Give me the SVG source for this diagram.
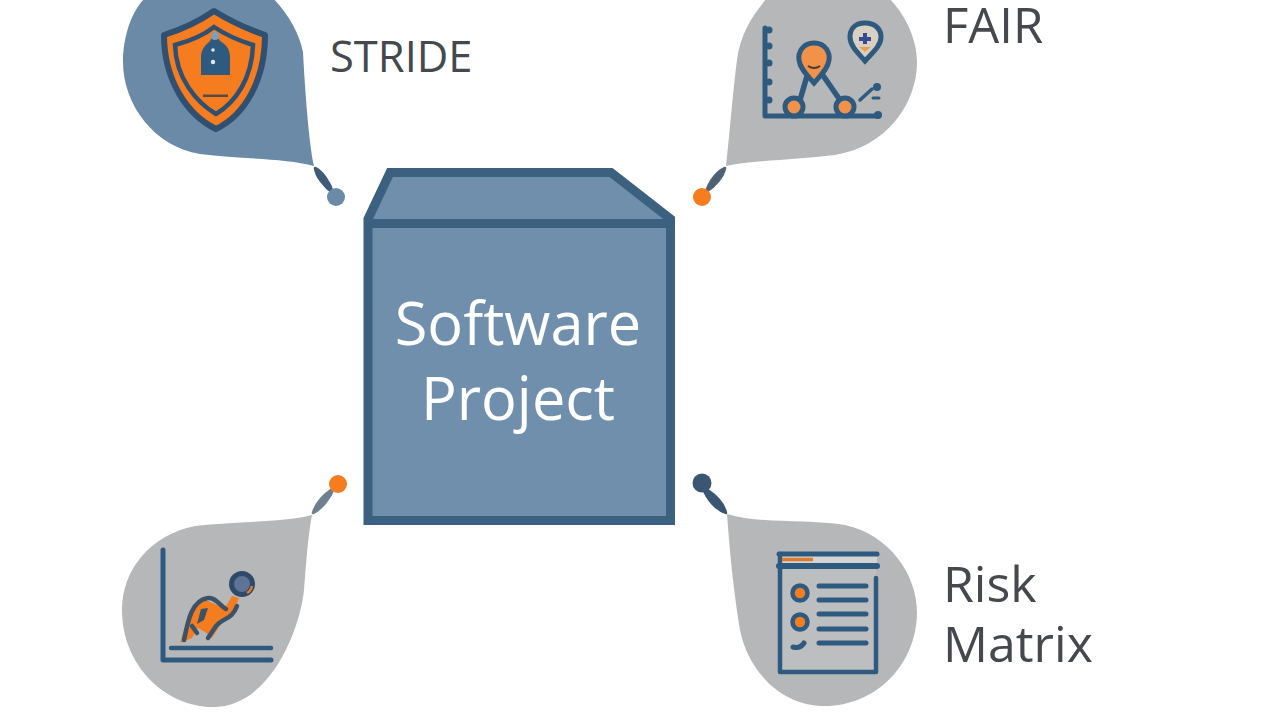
<svg xmlns="http://www.w3.org/2000/svg" width="1280" height="720" viewBox="0 0 1280 720">
<style>
.lbl{font-family:"Open Sans","Noto Sans",sans-serif;fill:#45484c}
.ttl{font-family:"Open Sans","Noto Sans",sans-serif;fill:#fff;font-size:59.5px;text-anchor:middle}
.ln{fill:none;stroke:#2f5a80;stroke-linecap:round;stroke-linejoin:round}
.grey{fill:#b6b7b9}
.blue{fill:#6b8aa8}
.or{fill:#f57c1f}
.nv{fill:#2f5a80}
.stalk{stroke-width:2.500;stroke-linejoin:round}
</style>
<rect width="1280" height="720" fill="#fff"/>
<g id="connectors">
<path class="stalk" d="M315,168 C322.200,171.100 330.200,182.300 333,193 C323.800,186.900 315.800,175.700 315,168Z" fill="#3f5d7b" stroke="#3f5d7b"/>
<path class="stalk" d="M725,168 C723.900,175.500 715.500,186.300 706,192 C709.100,181.500 717.500,170.700 725,168Z" fill="#4f6273" stroke="#4f6273"/>
<path class="stalk" d="M313,513 C320.900,509.500 330.100,498.700 334,488 C324.100,493.500 314.900,504.300 313,513Z" fill="#6e7f90" stroke="#6e7f90"/>
<path class="stalk" d="M726,513 C724.100,503.500 714.100,492.700 703,488 C706.900,499.500 716.900,510.300 726,513Z" fill="#3a5672" stroke="#3a5672"/>
<circle cx="336" cy="197" r="9" class="blue"/>
<circle cx="702" cy="197" r="9" class="or"/>
<circle cx="338" cy="484" r="9" class="or"/>
<circle cx="702" cy="483" r="9.5" fill="#3a5672"/>
</g>
<g id="node-project">
<path d="M390,172.500 H611 L670.500,219 V520.500 H368 V219Z" fill="#6f8fac" stroke="#3b6080" stroke-width="9" stroke-linejoin="miter"/>
<path d="M366,223.500 H672" stroke="#3b6080" stroke-width="9" fill="none"/>
<text class="ttl" x="518" y="345">Software</text>
<text class="ttl" x="518" y="420">Project</text>
</g>
<g id="node-stride">
<path class="blue" d="M314,166 C309,145 305,90 303,52 C299,32 288,14 272,-3 L146,-3 C130,12 123,40 123,62 C123,105 155,147 200,154 C240,159 285,158 314,166Z"/>
<path d="M214,11 C232,22 250,30 265,35 C265,80 245,115 216,129 C187,115 164,80 164,35 C180,30 198,22 214,11Z" fill="#f57c1f" stroke="#2f5070" stroke-width="6" stroke-linejoin="round"/>
<path d="M214,27 C226,35 240,41 253,45 C252,78 236,102 216,114 C196,102 176,78 175,45 C190,41 204,35 214,27Z" fill="none" stroke="#2f5070" stroke-width="4.500"/>
<path class="nv" d="M201,75 V57 C201,48 207,44 210,41 L215,33 L220,41 C225,44 230,48 230,57 V75Z"/>
<circle cx="215" cy="36" r="4" fill="#7ea0bc"/>
<circle cx="213" cy="50" r="1.800" fill="#dfe8ef"/>
<circle cx="213" cy="62" r="2.200" fill="#dfe8ef"/>
<rect x="203" y="94.500" width="25" height="2.500" fill="#5c4a40"/>
<text class="lbl" x="330" y="72" font-size="43.500">STRIDE</text>
</g>
<g id="node-fair">
<path class="grey" d="M726,166 C730,130 733,90 737,60 C740,35 752,15 768,-3 L888,-3 C906,15 917,40 917,62 C917,105 885,147 835,155 C795,160 755,160 726,166Z"/>
<path class="ln" stroke-width="5" d="M765,28 V116 H878"/>
<g class="nv"><circle cx="769" cy="30" r="3.500"/><circle cx="769" cy="46" r="3.500"/><circle cx="769" cy="63" r="3.500"/><circle cx="769" cy="82" r="3.500"/><circle cx="769" cy="100" r="3.500"/></g>
<path class="ln" stroke-width="5.500" d="M807,76 L800,100 M822,74 L840,100"/>
<circle cx="794" cy="107" r="9" fill="#f0924a" stroke="#2f5a80" stroke-width="5"/>
<circle cx="845" cy="107" r="9" fill="#f0924a" stroke="#2f5a80" stroke-width="5"/>
<path d="M814,43 C826,43 830,53 829,60 C828,69 820,76 814,83 C808,76 800,69 799,60 C798,53 802,43 814,43Z" fill="#f0924a" stroke="#2f5a80" stroke-width="5"/>
<path d="M808,66 q6,4 12,0" fill="none" stroke="#4a3a30" stroke-width="2"/>
<path d="M865,23 C876,23 881,30 881,37 C881,46 872,53 865,61 C858,53 850,46 850,37 C850,30 854,23 865,23Z" fill="#d8d0c2" stroke="#2f5a80" stroke-width="5"/>
<path d="M865,33 v11 M859,39 h12" stroke="#3a4a90" stroke-width="4"/>
<path d="M859,47 h12 l-6,5Z" fill="#e8a050"/>
<path class="ln" stroke-width="3.500" d="M860,100 L872,89"/>
<circle cx="877" cy="87" r="4" class="nv"/>
<path class="ln" stroke-width="3" d="M873,98 H879"/>
<circle cx="878" cy="115" r="4" class="nv"/>
<text class="lbl" x="943" y="43" font-size="49">FAIR</text>
</g>
<g id="node-bowtie">
<path class="grey" d="M312,515 C308,535 306,565 304,590 C300,630 270,707 213,707 C165,707 122,665 122,610 C122,570 150,535 195,526 C235,521 280,523 312,515Z"/>
<path class="ln" stroke-width="5" d="M163,550 V660 H271"/>
<path class="ln" stroke-width="4.500" d="M171,648 H271"/>
<path class="or" d="M180,643 L192,606 L205,600 L225,608 L232,596 L239,598 L233,613 L222,622 L212,638 L205,632 L198,628 L192,638Z"/>
<path fill="none" stroke="#3c5268" stroke-width="4.500" stroke-linecap="round" d="M184,640 C188,620 192,600 208,598 C216,597 220,606 226,609 M237,606 C232,620 222,618 216,626 L208,638 M192,626 L197,633"/>
<path d="M197,624 L201,609 L208,608 L204,620Z" fill="#3c5268"/>
<circle cx="242" cy="584" r="10.500" fill="#5f7396" stroke="#2f4a68" stroke-width="5"/>
<path d="M247,593 a10,10 0 0 0 5,-7" fill="none" stroke="#e07a2c" stroke-width="2.500"/>
</g>
<g id="node-risk-matrix">
<path class="grey" d="M727,514 C729,540 732,580 740,630 C748,670 780,706 825,706 C875,706 917,665 917,612 C917,575 890,535 845,525 C805,519 760,524 727,514Z"/>
<rect x="780" y="566" width="96" height="106" fill="#bdbec0"/>
<rect x="780" y="555" width="97" height="11" fill="#d4d4d4"/>
<path class="ln" stroke-width="5" d="M779,554 H877"/>
<path class="ln" stroke-width="6" d="M779,566 H877"/>
<path class="ln" stroke-width="4.500" d="M780,554 V672 H876 V578"/>
<path d="M782,559.500 H813" stroke="#e07a2c" stroke-width="3.500"/>
<path class="ln" stroke-width="5" d="M819,586 H866 M819,600 H866 M819,614 H866 M819,629 H866 M819,643 H866"/>
<circle cx="800" cy="593" r="7.500" class="or" stroke="#2f5a80" stroke-width="4.500"/>
<circle cx="800" cy="622" r="7.500" class="or" stroke="#2f5a80" stroke-width="4.500"/>
<path class="ln" stroke-width="5" d="M793,647 q7,2 11,-4"/>
<text class="lbl" x="943" y="602" font-size="50">Risk</text>
<text class="lbl" x="943" y="662" font-size="50">Matrix</text>
</g>
</svg>
